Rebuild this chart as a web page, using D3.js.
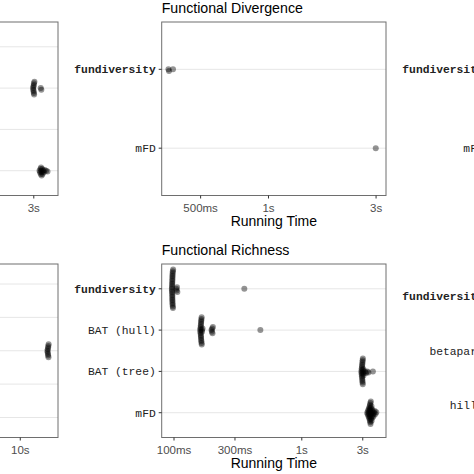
<!DOCTYPE html>
<html>
<head>
<meta charset="utf-8">
<script src="https://cdn.jsdelivr.net/npm/d3@7"></script>
<style>
  body { margin: 0; background: #fff; }
  svg { display: block; }
</style>
</head>
<body>
<div id="chart-area"></div>
<script>
// ---- data (running times in seconds) ----
// top-left panel, only its right edge is in view (4 rows)
var tl_rows = 4;
var tl_row2 = [2.98, 2.985, 2.99, 2.995, 3.0, 3.0, 3.005, 3.01, 3.02, 3.22, 3.24];
var tl_row4 = [3.18, 3.2, 3.21, 3.22, 3.23, 3.24, 3.25, 3.26, 3.27, 3.28, 3.3, 3.32, 3.35, 3.4, 3.45];

// bottom-left panel, only its right edge is in view (5 rows)
var bl_rows = 5;
var bl_row3 = [16.3, 16.35, 16.4, 16.45, 16.5, 16.5, 16.55, 16.6, 16.65];

// Functional Divergence
var fdiv_methods = ["fundiversity", "mFD"];
var fdiv_fundiversity = [0.360, 0.362, 0.377];
var fdiv_mfd = [2.99];

// Functional Richness
var fric_methods = ["fundiversity", "BAT (hull)", "BAT (tree)", "mFD"];
var fric_fundiversity = [0.0962, 0.0964, 0.0965, 0.0966, 0.0967, 0.0968, 0.0968, 0.0969, 0.0969,
    0.097, 0.097, 0.097, 0.0971, 0.0971, 0.0972, 0.0972, 0.0973, 0.0973, 0.0974, 0.0975, 0.0976,
    0.0977, 0.0979, 0.0981, 0.0984, 0.1042, 0.1048, 0.1055, 0.1062, 0.355];
var fric_bat_hull = [0.1605, 0.1608, 0.1612, 0.1615, 0.1618, 0.162, 0.1622, 0.1625, 0.1627, 0.1628,
    0.163, 0.1632, 0.1634, 0.1636, 0.1639, 0.1642, 0.1645, 0.1648, 0.1652, 0.1656, 0.1672,
    0.1965, 0.198, 0.199, 0.2, 0.2015, 0.474];
var fric_bat_tree = [2.93, 2.935, 2.94, 2.945, 2.95, 2.955, 2.96, 2.965, 2.97, 2.975, 2.98, 2.98,
    2.985, 2.99, 2.995, 3.0, 3.005, 3.01, 3.015, 3.02, 3.03, 3.04, 3.12, 3.18, 3.25, 3.32, 3.6];
var fric_mfd = [3.25, 3.28, 3.30, 3.32, 3.33, 3.35, 3.36, 3.37, 3.38, 3.39, 3.40, 3.40, 3.41, 3.42,
    3.42, 3.43, 3.44, 3.44, 3.45, 3.45, 3.46, 3.47, 3.47, 3.48, 3.49, 3.50, 3.51, 3.52, 3.53, 3.55,
    3.56, 3.58, 3.60, 3.62, 3.65, 3.68, 3.72, 3.77, 3.83];

// right panels, only the row labels are in view
var tr_methods = ["fundiversity", "mFD"];
var br_methods = ["fundiversity", "betapart", "hillR"];

// tick values
var tl_ticks = [3];
var bl_ticks = [10];
var fdiv_ticks = [0.5, 1, 3];
var fric_ticks = [0.1, 0.3, 1, 3];

// ---- layout ----
var width = 474, height = 474;
var colX = [-166.3, 161.7, 489.7];
var rowY = [22, 264];
var panelW = 224.3, panelH = 173.5;

var panels = [
    {col: 0, row: 0, rows: d3.range(tl_rows), labels: null, domain: [0.39, 3.84], ticks: tl_ticks,
        series: [[], tl_row2, [], tl_row4]},
    {col: 1, row: 0, rows: fdiv_methods, labels: fdiv_methods, domain: [0.336, 3.32], ticks: fdiv_ticks,
        title: "Functional Divergence", xtitle: true, series: [fdiv_fundiversity, fdiv_mfd]},
    {col: 2, row: 0, rows: tr_methods, labels: tr_methods, domain: [0.1, 10], ticks: [], series: []},
    {col: 0, row: 1, rows: d3.range(bl_rows), labels: null, domain: [0.35, 19.7], ticks: bl_ticks,
        series: [[], [], bl_row3, [], []]},
    {col: 1, row: 1, rows: fric_methods, labels: fric_methods, domain: [0.0801, 4.56], ticks: fric_ticks,
        title: "Functional Richness", xtitle: true,
        series: [fric_fundiversity, fric_bat_hull, fric_bat_tree, fric_mfd]},
    {col: 2, row: 1, rows: br_methods, labels: br_methods, domain: [0.1, 10], ticks: [], series: []}
];

function fmtTime(v) {
    if (v < 1) return Math.round(v * 1000) + "ms";
    return v + "s";
}

// simple beeswarm: sort by x and push points up/down until they clear the others
function swarm(xs, d) {
    var pts = xs.map(function(x) { return {x: x, y: 0}; }).sort(function(a, b) { return a.x - b.x; });
    var placed = [];
    var step = d / 4;
    for (var p of pts) {
        var k = 0;
        while (true) {
            var off = k === 0 ? 0 : (k % 2 ? 1 : -1) * Math.ceil(k / 2) * step;
            var hit = placed.some(function(q) { return Math.hypot(q.x - p.x, q.y - off) < d; });
            if (!hit) { p.y = off; break; }
            k++;
        }
        placed.push(p);
    }
    return placed;
}

var svg = d3.select("#chart-area")
    .append("svg")
        .attr("width", width)
        .attr("height", height);

var sansFont = "'Liberation Sans', Arial, Helvetica, sans-serif";
var monoFont = "'Courier New', 'Liberation Mono', monospace";

for (var p of panels) {
    var x0 = colX[p.col], y0 = rowY[p.row];
    var g = svg.append("g")
        .attr("transform", "translate(" + x0 + "," + y0 + ")");

    var x = d3.scaleLog().domain(p.domain).range([0, panelW]);
    var y = d3.scalePoint().domain(p.rows).range([0, panelH]).padding(0.6);

    // horizontal grid
    g.selectAll(".grid")
        .data(p.rows)
        .enter().append("line")
            .attr("x1", 0).attr("x2", panelW)
            .attr("y1", function(d) { return y(d); })
            .attr("y2", function(d) { return y(d); })
            .attr("stroke", "#e6e6e6")
            .attr("stroke-width", 1);

    // points
    p.series.forEach(function(vals, i) {
        var pts = swarm(vals.map(function(v) { return x(v); }), 1.6);
        var cy = y(p.rows[i]);
        g.selectAll(null)
            .data(pts)
            .enter().append("circle")
                .attr("cx", function(d) { return d.x; })
                .attr("cy", function(d) { return cy + d.y; })
                .attr("r", 3)
                .attr("fill", "#000")
                .attr("fill-opacity", 0.42);
    });

    // border
    g.append("rect")
        .attr("width", panelW).attr("height", panelH)
        .attr("fill", "none")
        .attr("stroke", "#6e6e6e")
        .attr("stroke-width", 1);

    // x axis
    var xa = g.append("g").attr("transform", "translate(0," + panelH + ")");
    xa.selectAll("line")
        .data(p.ticks)
        .enter().append("line")
            .attr("x1", function(d) { return x(d); })
            .attr("x2", function(d) { return x(d); })
            .attr("y1", 0).attr("y2", 3)
            .attr("stroke", "#333");
    xa.selectAll("text")
        .data(p.ticks)
        .enter().append("text")
            .attr("x", function(d) { return x(d); })
            .attr("y", 16)
            .attr("text-anchor", "middle")
            .attr("font-family", sansFont)
            .attr("font-size", "11.5px")
            .attr("fill", "#4d4d4d")
            .text(fmtTime);

    if (p.xtitle) {
        g.append("text")
            .attr("x", panelW / 2)
            .attr("y", panelH + 30.5)
            .attr("text-anchor", "middle")
            .attr("font-family", sansFont)
            .attr("font-size", "14px")
            .attr("fill", "#000")
            .text("Running Time");
    }

    // y axis
    g.selectAll(".ytick")
        .data(p.rows)
        .enter().append("line")
            .attr("x1", -3).attr("x2", 0)
            .attr("y1", function(d) { return y(d); })
            .attr("y2", function(d) { return y(d); })
            .attr("stroke", "#333");
    if (p.labels) {
        g.selectAll(".ylab")
            .data(p.labels)
            .enter().append("text")
                .attr("x", -6)
                .attr("y", function(d) { return y(d); })
                .attr("dy", "0.35em")
                .attr("text-anchor", "end")
                .attr("font-family", monoFont)
                .attr("font-size", "11.3px")
                .attr("font-weight", function(d) { return d === "fundiversity" ? "bold" : "normal"; })
                .attr("fill", "#222")
                .text(function(d) { return d; });
    }

    if (p.title) {
        g.append("text")
            .attr("x", 0)
            .attr("y", -9.5)
            .attr("font-family", sansFont)
            .attr("font-size", "14.2px")
            .attr("fill", "#000")
            .text(p.title);
    }
}
</script>
</body>
</html>
